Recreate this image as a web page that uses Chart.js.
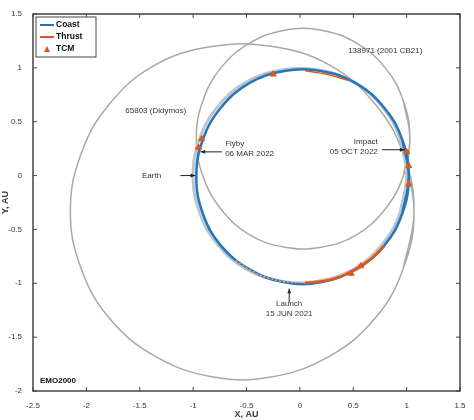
<!DOCTYPE html>
<html>
<head>
<meta charset="UTF-8">
<script src="https://cdn.jsdelivr.net/npm/chart.js"></script>
<style>body{margin:0;background:#fff}</style>
</head>
<body>
<div style="width:474px;height:420px"><canvas id="myChart"></canvas></div>
<script>
// orbit points (AU)
const didymos = [[1.07,-0.33],[0.97,0.2],[0.70,0.67],[0.27,1.03],[-0.27,1.20],[-0.81,1.20],[-1.35,1.03],[-1.78,0.67],[-2.05,0.2],[-2.15,-0.33],[-2.05,-0.86],[-1.78,-1.33],[-1.35,-1.68],[-0.81,-1.87],[-0.27,-1.87],[0.27,-1.68],[0.70,-1.33],[0.97,-0.86]]
const cb21 = [[1.03,0.345],[0.97,0.69],[0.80,1.0],[0.53,1.23],[0.20,1.35],[-0.14,1.35],[-0.47,1.23],[-0.74,1.0],[-0.91,0.69],[-0.97,0.345],[-0.91,0],[-0.74,-0.31],[-0.47,-0.55],[-0.14,-0.665],[0.20,-0.665],[0.53,-0.55],[0.80,-0.31],[0.97,0]]
const earth = [[1,0],[0.94,0.34],[0.77,0.64],[0.5,0.87],[0.17,0.98],[-0.17,0.98],[-0.5,0.87],[-0.77,0.64],[-0.94,0.34],[-1,0],[-0.94,-0.34],[-0.77,-0.64],[-0.5,-0.87],[-0.17,-0.98],[0.17,-0.98],[0.5,-0.87],[0.77,-0.64],[0.94,-0.34]]
const coast = [[1.02,-0.01],[0.96,0.33],[0.79,0.63],[0.52,0.86],[0.195,0.97],[-0.145,0.97],[-0.47,0.86],[-0.74,0.63],[-0.91,0.33],[-0.97,-0.01],[-0.91,-0.35],[-0.74,-0.65],[-0.47,-0.87],[-0.145,-0.99],[0.195,-0.99],[0.52,-0.87],[0.79,-0.65],[0.96,-0.35]]
const thrustTop = [[0.05,0.972],[0.25,0.94],[0.45,0.885]]
const thrustBottom = [[0.05,-0.995],[0.3,-0.965],[0.52,-0.875],[0.68,-0.765],[0.79,-0.655]]
const thrustDots = [[-0.6,-0.79],[-0.45,-0.885],[-0.3,-0.95],[-0.15,-0.985],[0.05,-0.995]]
const tcm = [[-0.25,0.94],[-0.92,0.34],[-0.95,0.26],[1.0,0.22],[1.02,0.09],[1.02,-0.08],[0.57,-0.84],[0.48,-0.91]]
const xTicks = [-2.5,-2,-1.5,-1,-0.5,0,0.5,1,1.5]
const yTicks = [-2,-1.5,-1,-0.5,0,0.5,1,1.5]
const notes = [
  {text:['65803 (Didymos)'], at:[-1.35,0.6], arrow:null},
  {text:['138971 (2001 CB21)'], at:[0.8,1.16], arrow:null},
  {text:['Flyby','06 MAR 2022'], at:[-0.7,0.25], arrow:[[-0.73,0.22],[-0.93,0.22]], align:'left'},
  {text:['Impact','05 OCT 2022'], at:[0.73,0.27], arrow:[[0.77,0.24],[0.98,0.24]], align:'right'},
  {text:['Earth'], at:[-1.3,0.0], arrow:[[-1.12,0.0],[-0.98,0.0]], align:'right'},
  {text:['Launch','15 JUN 2021'], at:[-0.1,-1.24], arrow:[[-0.1,-1.18],[-0.1,-1.05]], align:'center'}
]

const pts = a => a.map(p => ({x:p[0], y:p[1]}))
// closed loop: wrap one point on each end so the spline closes smoothly
const loop = a => pts([a[a.length-1], ...a, a[0], a[1]])
const grey = {borderColor:'#a8a8a8', borderWidth:1.5, showLine:true, pointRadius:0, tension:0.4, fill:false}

const overlay = {
  id:'overlay',
  afterDatasetsDraw(chart){
    const {ctx, chartArea:a, scales:{x, y}} = chart
    ctx.save()
    // inward ticks on all sides
    ctx.strokeStyle = '#444'; ctx.lineWidth = 1
    xTicks.forEach(v => { const px = x.getPixelForValue(v)
      ctx.beginPath(); ctx.moveTo(px,a.bottom); ctx.lineTo(px,a.bottom-4); ctx.moveTo(px,a.top); ctx.lineTo(px,a.top+4); ctx.stroke() })
    yTicks.forEach(v => { const py = y.getPixelForValue(v)
      ctx.beginPath(); ctx.moveTo(a.left,py); ctx.lineTo(a.left+4,py); ctx.moveTo(a.right,py); ctx.lineTo(a.right-4,py); ctx.stroke() })
    ctx.lineWidth = 1.5
    ctx.strokeRect(a.left, a.top, a.right-a.left, a.bottom-a.top)
    // annotations
    ctx.font = '8px "Liberation Sans", Arial'; ctx.fillStyle = '#333'
    notes.forEach(n => {
      const px = x.getPixelForValue(n.at[0]), py = y.getPixelForValue(n.at[1])
      ctx.textAlign = n.align || 'center'; ctx.textBaseline = 'middle'
      n.text.forEach((t,i) => ctx.fillText(t, px, py + i*10 - (n.text.length-1)*5))
      if (n.arrow) {
        const x0 = x.getPixelForValue(n.arrow[0][0]), y0 = y.getPixelForValue(n.arrow[0][1])
        const x1 = x.getPixelForValue(n.arrow[1][0]), y1 = y.getPixelForValue(n.arrow[1][1])
        ctx.strokeStyle = '#222'; ctx.lineWidth = 1
        ctx.beginPath(); ctx.moveTo(x0,y0); ctx.lineTo(x1,y1); ctx.stroke()
        const ang = Math.atan2(y1-y0, x1-x0)
        ctx.beginPath(); ctx.moveTo(x1,y1)
        ctx.lineTo(x1-5*Math.cos(ang-0.4), y1-5*Math.sin(ang-0.4))
        ctx.lineTo(x1-5*Math.cos(ang+0.4), y1-5*Math.sin(ang+0.4)); ctx.closePath()
        ctx.fillStyle = '#222'; ctx.fill(); ctx.fillStyle = '#333'
      }
    })
    ctx.font = 'bold 8px "Liberation Sans", Arial'; ctx.textAlign = 'left'; ctx.fillStyle = '#111'
    ctx.fillText('EMO2000', a.left+7, a.bottom-10)
    // legend
    const lx = a.left+3, ly = a.top+3
    ctx.fillStyle = '#fff'; ctx.fillRect(lx, ly, 60, 40)
    ctx.strokeStyle = '#444'; ctx.lineWidth = 1; ctx.strokeRect(lx, ly, 60, 40)
    ctx.font = 'bold 8.5px "Liberation Sans", Arial'; ctx.fillStyle = '#111'
    const items = [['Coast','#1f77c0'],['Thrust','#e2541c']]
    items.forEach((it,i) => {
      ctx.strokeStyle = it[1]; ctx.lineWidth = 2
      ctx.beginPath(); ctx.moveTo(lx+4, ly+8+i*12); ctx.lineTo(lx+18, ly+8+i*12); ctx.stroke()
      ctx.fillText(it[0], lx+20, ly+8+i*12)
    })
    ctx.fillStyle = '#e2541c'; ctx.beginPath()
    ctx.moveTo(lx+11, ly+29); ctx.lineTo(lx+14, ly+35); ctx.lineTo(lx+8, ly+35); ctx.closePath(); ctx.fill()
    ctx.fillStyle = '#111'; ctx.fillText('TCM', lx+20, ly+32)
    ctx.restore()
  }
}

// Chart.js paints lower-index datasets on top, so marks come first
new Chart(document.getElementById('myChart'), {
  type:'scatter',
  data:{datasets:[
    {data:pts(tcm), pointStyle:'triangle', pointRadius:3.5, backgroundColor:'#e2541c', borderColor:'#e2541c'},
    {data:pts(thrustTop), showLine:true, pointRadius:0, tension:0.4, borderColor:'#e2541c', borderWidth:1.5},
    {data:pts(thrustBottom), showLine:true, pointRadius:0, tension:0.4, borderColor:'#e2541c', borderWidth:2.5},
    {data:pts(thrustDots), showLine:true, pointRadius:0, tension:0.4, borderColor:'#f0a080', borderWidth:1.5, borderDash:[2,2]},
    {data:loop(coast), showLine:true, pointRadius:0, tension:0.4, borderColor:'#1f77c0', borderWidth:2.5},
    {...grey, data:loop(earth), borderColor:'#c4c4c4', borderWidth:3},
    {...grey, data:loop(cb21)},
    {...grey, data:loop(didymos)}
  ]},
  options:{
    responsive:true, maintainAspectRatio:false, animation:false,
    layout:{padding:{top:14, right:14}},
    plugins:{legend:{display:false}, tooltip:{enabled:false}},
    scales:{
      x:{min:-2.5, max:1.5, afterBuildTicks:s => { s.ticks = xTicks.map(v => ({value:v})) },
        grid:{display:false}, border:{display:false},
        ticks:{color:'#333', font:{size:8}, padding:2, maxRotation:0, callback:v => String(v)},
        title:{display:true, text:'X, AU', color:'#333', font:{size:9, weight:'bold'}, padding:0},
        afterFit:s => { s.height = 29 }},
      y:{min:-2, max:1.5, afterBuildTicks:s => { s.ticks = yTicks.map(v => ({value:v})) },
        grid:{display:false}, border:{display:false},
        ticks:{color:'#333', font:{size:8}, padding:3, callback:v => String(v)},
        title:{display:true, text:'Y, AU', color:'#333', font:{size:9, weight:'bold'}, padding:0},
        afterFit:s => { s.width = 33 }}
    }
  },
  plugins:[overlay]
})
</script>
</body>
</html>
